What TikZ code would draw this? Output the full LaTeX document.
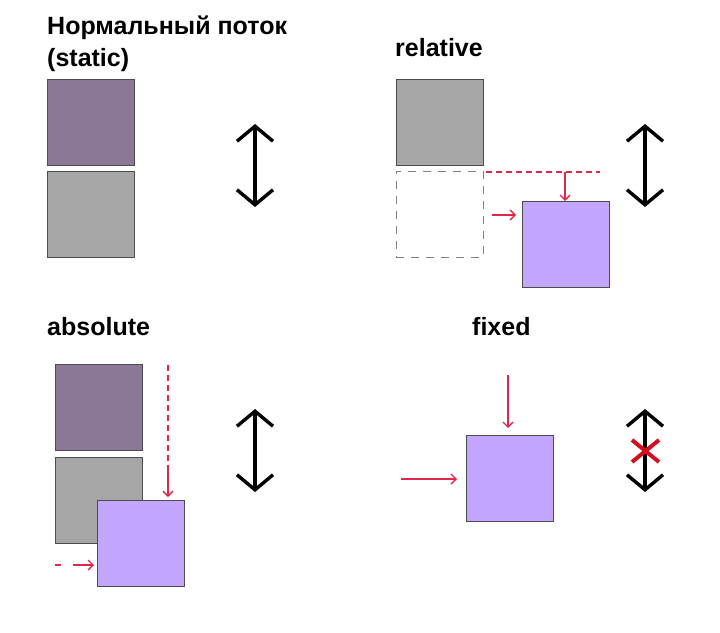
\documentclass[tikz,border=0pt]{standalone}
\usepackage{fontspec}
\setmainfont{Liberation Sans}
\usetikzlibrary{arrows.meta}
\definecolor{dpurple}{HTML}{8B7796}
\definecolor{lpurple}{HTML}{C3A6FF}
\definecolor{gbox}{HTML}{A6A6A6}
\definecolor{pred}{HTML}{E0264A}
\definecolor{xred}{HTML}{D01020}
\begin{document}
\begin{tikzpicture}[x=1pt,y=-1pt,
  box/.style={draw=black!70,line width=0.6pt,minimum width=87pt,minimum height=86pt,inner sep=0,anchor=north west},
  ghost/.style={box,draw=gray,dashed,dash pattern=on 8pt off 7pt},
  ttl/.style={anchor=west,font=\bfseries\fontsize{25}{29}\selectfont,inner sep=0},
  dbl/.style={line width=3.4pt,{Straight Barb[length=15pt,width=36pt,line width=3.4pt]}-{Straight Barb[length=15pt,width=36pt,line width=3.4pt]}},
  ra/.style={pred,line width=1.3pt,-{Straight Barb[length=5pt,width=10pt]}},
  rd/.style={pred,line width=1.6pt,dash pattern=on 6pt off 4pt}]
\useasboundingbox (0,0) rectangle (720,632);
% static
\node[ttl] (t1) at (47,28) {Нормальный поток};
\node[ttl] (t1b) at (47,60) {(static)};
\node[box,fill=dpurple] (s1) at (47,79) {};
\node[box,fill=gbox] (s2) at (47,171) {};
\coordinate (a1t) at (255,124); \coordinate (a1b) at (255,207);
\draw[dbl] (a1t) -- (a1b);
% relative
\node[ttl] (t2) at (395,48) {relative};
\node[box,fill=gbox] (r1) at (396,79) {};
\node[ghost] (r2) at (396,171) {};
\node[box,fill=lpurple] (r3) at (522,201) {};
\coordinate (rd1) at (486,172); \coordinate (rd2) at (600,172);
\draw[rd] (rd1) -- (rd2);
\coordinate (rv1) at (565,172);
\draw[ra] (rv1) -- (r3.north -| rv1);
\coordinate (rh1) at (492,215);
\draw[ra] (rh1) -- (516,215);
\coordinate (a2t) at (645,124); \coordinate (a2b) at (645,207);
\draw[dbl] (a2t) -- (a2b);
% absolute
\node[ttl] (t3) at (47,327) {absolute};
\node[box,fill=dpurple] (b1) at (55,364) {};
\node[box,fill=gbox] (b2) at (55,457) {};
\node[box,fill=lpurple] (b3) at (97,500) {};
\coordinate (bd1) at (168,365); \coordinate (bd2) at (168,470);
\draw[rd] (bd1) -- (bd2);
\draw[ra] (bd2) -- (168,497);
\coordinate (bh1) at (55,565); \coordinate (bh2) at (64,565);
\draw[rd] (bh1) -- (bh2);
\coordinate (bh3) at (73,565);
\draw[ra] (bh3) -- (94,565);
\coordinate (a3t) at (255,409); \coordinate (a3b) at (255,492);
\draw[dbl] (a3t) -- (a3b);
% fixed
\node[ttl] (t4) at (472,327) {fixed};
\node[box,fill=lpurple] (f1) at (466,435) {};
\coordinate (fv1) at (508,375);
\draw[ra] (fv1) -- (508,428);
\coordinate (fh1) at (401,479);
\draw[ra] (fh1) -- (457,479);
\coordinate (a4t) at (645,409); \coordinate (a4b) at (645,492);
\draw[dbl] (a4t) -- (a4b);
\coordinate (x1) at (632,440); \coordinate (x2) at (659,462);
\coordinate (x3) at (632,462); \coordinate (x4) at (659,440);
\draw[xred,line width=4pt] (x1) -- (x2) (x3) -- (x4);
\end{tikzpicture}
\end{document}
